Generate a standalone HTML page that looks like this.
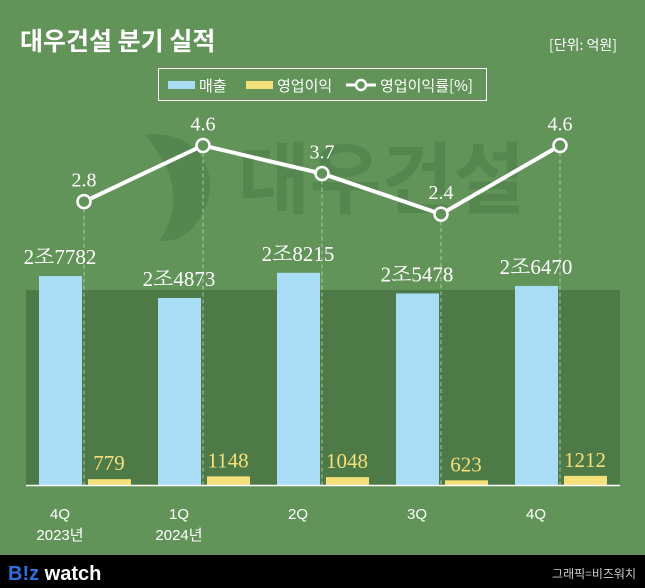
<!DOCTYPE html>
<html><head><meta charset="utf-8"><style>
body{margin:0;width:645px;height:588px;overflow:hidden;background:#62945a;font-family:"Liberation Sans","Noto Sans CJK KR",sans-serif;}
svg{display:block}
</style></head><body>
<svg width="645" height="588" viewBox="0 0 645 588">
<rect x="0" y="0" width="645" height="588" fill="#62945a"/>
<g>
<path d="M145 135 C190 128 218 165 208 200 C200 228 178 245 160 240 C178 212 182 178 145 135 Z" fill="#558650"/>
<text x="238" y="207" font-size="78" font-weight="bold" fill="#558650" font-family="'Noto Sans CJK KR',sans-serif">대우건설</text>
</g>
<text x="20" y="50" font-size="25" font-weight="bold" fill="#fff" font-family="'Noto Sans CJK KR',sans-serif">대우건설 분기 실적</text>
<text x="617" y="50" text-anchor="end" font-size="14" fill="#fff" font-family="'Noto Sans CJK KR',sans-serif">[단위: 억원]</text>
<g>
<rect x="158.5" y="68.5" width="328" height="32" fill="none" stroke="#fff" stroke-width="1"/>
<rect x="168" y="81" width="27" height="8" fill="#a9dcf5"/>
<text x="199" y="91" font-size="15" fill="#fff" font-family="'Noto Sans CJK KR',sans-serif">매출</text>
<rect x="246" y="81" width="27" height="8" fill="#f3e07a"/>
<text x="277" y="91" font-size="15" fill="#fff" font-family="'Noto Sans CJK KR',sans-serif">영업이익</text>
<line x1="346" y1="85" x2="376" y2="85" stroke="#fff" stroke-width="3"/>
<circle cx="361" cy="85" r="5" fill="#62945a" stroke="#fff" stroke-width="2.5"/>
<text x="380" y="91" font-size="15" fill="#fff" font-family="'Noto Sans CJK KR',sans-serif">영업이익률[%]</text>
</g>
<rect x="26" y="290" width="594" height="195" fill="#4e7a47"/>
<g id="marks"></g>
<line x1="26" y1="485.5" x2="620" y2="485.5" stroke="#fff" stroke-width="1.5"/>
<rect x="0" y="555" width="645" height="33" fill="#000"/>
<text x="8" y="580" font-size="20" font-weight="bold" fill="#fff"><tspan fill="#2f6fe0">B!z</tspan> watch</text>
<text x="636" y="578" text-anchor="end" font-size="12" fill="#ccc" font-family="'Noto Sans CJK KR',sans-serif">그래픽=비즈워치</text>
</svg>
<script>
const categories = ["4Q|2023년","1Q|2024년","2Q","3Q","4Q"];
const revenue = [27782,24873,28215,25478,26470];
const revenueLabels = ["2조7782","2조4873","2조8215","2조5478","2조6470"];
const opProfit = [779,1148,1048,623,1212];
const margin = [2.8,4.6,3.7,2.4,4.6];

const NS="http://www.w3.org/2000/svg";
const g=document.getElementById('marks');
const baseY=485;
const xc=i=>84+i*119;
const yBar=v=>baseY-v*0.00752;
const yLine=v=>289-v*31.2;
function el(t,a){const e=document.createElementNS(NS,t);for(const k in a)e.setAttribute(k,a[k]);g.appendChild(e);return e;}
function txt(x,y,s,size,fill,serif,anchor){const e=el('text',{x:x,y:y,'font-size':size,fill:fill,'text-anchor':anchor||'middle','font-family':serif?"'Liberation Serif','Noto Serif CJK SC',serif":"'Liberation Sans','Noto Sans CJK KR',sans-serif"});e.textContent=s;return e;}
categories.forEach((c,i)=>{
  const x=xc(i);
  const dl=el('line',{x1:x,y1:yLine(margin[i]),x2:x,y2:baseY,stroke:'#a9c7a4','stroke-width':1,'stroke-dasharray':'4,3'});
  
  
  const ry=yBar(revenue[i]);
  const b=el('rect',{x:x-45,y:ry,width:43,height:baseY-ry,fill:'#a9dcf5'});
  
  
  const oy=yBar(opProfit[i]);
  const o=el('rect',{x:x+4,y:oy,width:43,height:baseY-oy,fill:'#f3e07a'});
  
  
  const rl=txt(x-24,ry-12,revenueLabels[i],21,'#fff',true);
  
  
  const ol=txt(x+25,oy-9,String(opProfit[i]),21,'#f3e07a',true);
  
  
  const parts=c.split('|');
  const xl=txt(x-24,519,parts[0],15,'#fff',false);
  
  
  if(parts[1]){const yl=txt(x-24,540,parts[1],15,'#fff',false);
  
  }
});
const pts=margin.map((v,i)=>xc(i)+','+yLine(v)).join(' ');
const pl=el('polyline',{points:pts,fill:'none',stroke:'#fff','stroke-width':4});


margin.forEach((v,i)=>{
  const c=el('circle',{cx:xc(i),cy:yLine(v),r:6.5,fill:'#62945a',stroke:'#fff','stroke-width':2.5});
  
  
  const t=txt(xc(i),yLine(v)-15,v.toFixed(1),20,'#fff',true);
  
  
});
</script>
</body></html>
